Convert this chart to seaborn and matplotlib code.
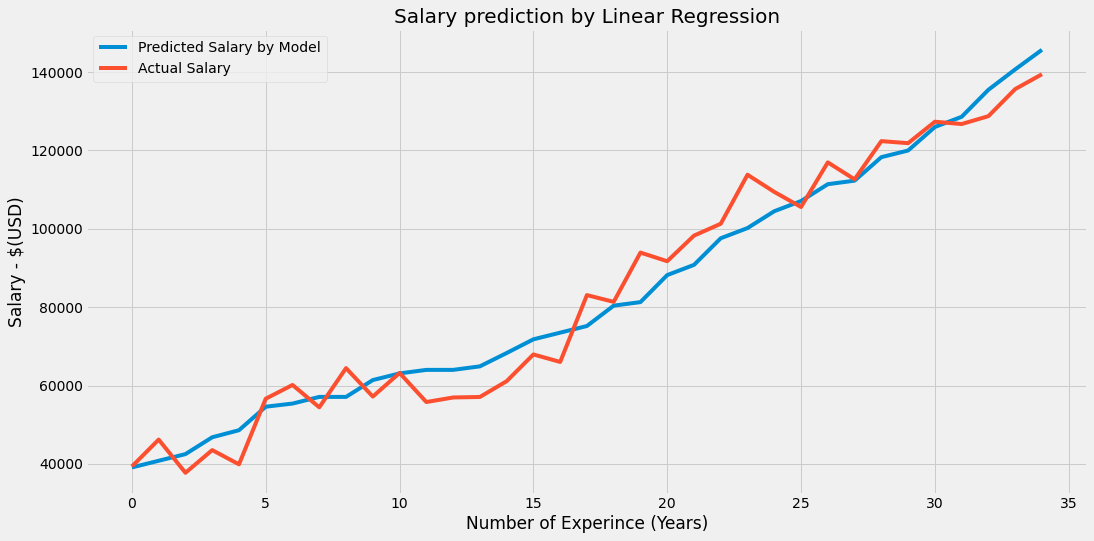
import numpy as np
import pandas as pd
import seaborn as sns
import matplotlib.pyplot as plt

# values
predicted_salary = [39100, 40800, 42500, 46800, 48600, 54600, 55400, 57100, 57100, 61400,
                    63100, 64000, 64000, 64900, 68300, 71800, 73500, 75200, 80400, 81300,
                    88200, 90800, 97600, 100200, 104500, 107100, 111400, 112300, 118300, 120000,
                    126000, 128600, 135500, 140700, 145700]
actual_salary = [39343, 46205, 37731, 43525, 39891, 56642, 60150, 54445, 64445, 57189,
                 63218, 55794, 56957, 57081, 61111, 67938, 66029, 83088, 81363, 93940,
                 91738, 98273, 101302, 113812, 109431, 105582, 116969, 112635, 122391, 121872,
                 127345, 126756, 128765, 135675, 139465]
experience_idx = np.arange(len(actual_salary))

df = pd.DataFrame({'idx': experience_idx,
                   'predicted': predicted_salary,
                   'actual': actual_salary})

plt.style.use('fivethirtyeight')
plt.rcParams['font.family'] = ['DejaVu Sans']

fig = plt.figure(figsize=(1094 / 72, 541 / 72), dpi=72)
ax = fig.add_axes([0.079, 0.087, 0.915, 0.86])

sns.lineplot(data=df, x='idx', y='predicted', ax=ax, color='#008fd5',
             linewidth=4, label='Predicted Salary by Model')
sns.lineplot(data=df, x='idx', y='actual', ax=ax, color='#fc4f30',
             linewidth=4, label='Actual Salary')

ax.set_title('Salary prediction by Linear Regression', fontsize=20)
ax.set_xlabel('Number of Experince (Years)', fontsize=17)
ax.set_ylabel('Salary - $(USD)', fontsize=17)
ax.tick_params(labelsize=14)
ax.legend(loc='upper left', fontsize=14)

fig.savefig('out.png', dpi=72, facecolor=fig.get_facecolor())
